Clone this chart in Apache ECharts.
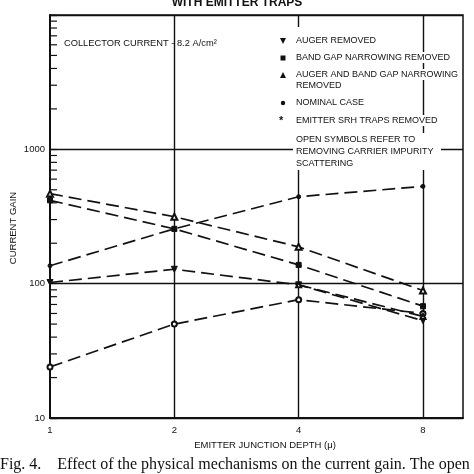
<!DOCTYPE html>
<html>
<head>
<meta charset="utf-8">
<script src="https://cdn.jsdelivr.net/npm/echarts@6/dist/echarts.min.js"></script>
<style>html,body{margin:0;padding:0;background:#fff}#c{width:474px;height:474px}</style>
</head>
<body>
<div id="c"></div>
<script>
// Emitter junction depth (microns)
const depths = [1, 2, 4, 8];
const xTickLabels = [1, 2, 4, 8];
const yTickLabels = [10, 100, 1000];
// Current gain series
const nominalCase = [136, 256, 444, 530];
const bandGapRemoved = [417, 256, 138, 68];
const augerBandGapRemoved = [440, 256, 139, 68];
const augerRemoved = [102, 128, 98, 53];
const openUpper = [468, 315, 188, 89];
const openLower = [24, 50, 76, 60];
const extraSegment = [null, null, 98, 57];
const minorTickValues = [20,30,40,50,60,70,80,90,200,300,400,500,600,700,800,900,2000,3000,4000,5000,6000,7000,8000,9000];
const verticalGrid = [2, 4, 8];

const pairs = arr => depths.map((d, i) => [d, arr[i]]).filter(p => p[1] != null);
const FONT = 'Liberation Sans';
const lineStyle = {color: '#111', width: 1.7, type: [13, 6]};

function lineSeries(name, arr, symbol, size) {
  return {
    name, type: 'line', data: pairs(arr), symbol, symbolSize: size,
    lineStyle, itemStyle: {color: '#111', borderColor: '#111', borderWidth: 1},
    showSymbol: true, z: 5, animation: false
  };
}

const chart = echarts.init(document.getElementById('c'), null, {renderer: 'canvas'});
const legendRows = [
  {sym: 'tri-down', text: 'AUGER REMOVED', y: 41},
  {sym: 'square', text: 'BAND GAP NARROWING REMOVED', y: 58},
  {sym: 'tri-up', text: 'AUGER AND BAND GAP NARROWING', y: 75},
  {sym: null, text: 'REMOVED', y: 86},
  {sym: 'circle', text: 'NOMINAL CASE', y: 103},
  {sym: 'star', text: 'EMITTER SRH TRAPS REMOVED', y: 121},
  {sym: null, text: 'OPEN SYMBOLS REFER TO', y: 140},
  {sym: null, text: 'REMOVING CARRIER IMPURITY', y: 152},
  {sym: null, text: 'SCATTERING', y: 164}
];
const graphics = [
  {type: 'rect', z: 99, shape: {x: 274, y: 27, width: 146, height: 107}, style: {fill: '#fff'}},
  {type: 'rect', z: 99, shape: {x: 293, y: 133, width: 148, height: 37}, style: {fill: '#fff'}}
];
legendRows.forEach(r => {
  graphics.push({type: 'text', left: 294, top: r.y - 6, z: 100,
    style: {text: r.text, font: '9px "' + FONT + '"', fill: '#111', backgroundColor: '#fff', padding: [1, 2, 1, 2]}});
  const cx = 283, cy = r.y;
  if (r.sym === 'tri-down') graphics.push({type: 'polygon', z: 100, shape: {points: [[cx-3, cy-3], [cx+3, cy-3], [cx, cy+3]]}, style: {fill: '#111'}});
  if (r.sym === 'tri-up') graphics.push({type: 'polygon', z: 100, shape: {points: [[cx-3, cy+3], [cx+3, cy+3], [cx, cy-3]]}, style: {fill: '#111'}});
  if (r.sym === 'square') graphics.push({type: 'rect', z: 100, shape: {x: cx-2.5, y: cy-2.5, width: 5, height: 5}, style: {fill: '#111'}});
  if (r.sym === 'circle') graphics.push({type: 'circle', z: 100, shape: {cx, cy, r: 2.2}, style: {fill: '#111'}});
  if (r.sym === 'star') graphics.push({type: 'text', z: 100, left: cx - 4, top: cy - 6, style: {text: '*', font: 'bold 11px "' + FONT + '"', fill: '#111'}});
});
graphics.push({type: 'text', left: 64, top: 39, z: 100,
  style: {text: 'COLLECTOR CURRENT - 8.2 A/cm²', font: '9.3px "' + FONT + '"', fill: '#111'}});
graphics.push({type: 'text', left: 'center', top: -3, z: 100,
  style: {text: 'WITH EMITTER TRAPS', font: 'bold 12px "' + FONT + '"', fill: '#111'}});
graphics.push({type: 'text', x: 13, y: 228, rotation: Math.PI / 2, z: 100,
  style: {text: 'CURRENT GAIN', font: '9.5px "' + FONT + '"', fill: '#111', align: 'center', verticalAlign: 'middle'}});
graphics.push({type: 'text', left: 0, top: 457, z: 100,
  style: {text: 'Fig. 4.    Effect of the physical mechanisms on the current gain. The open', font: '16px "Liberation Serif"', fill: '#111'}});

const option = {
  animation: false,
  backgroundColor: '#fff',
  grid: {left: 50, right: 11, top: 15, bottom: 56, show: true, borderColor: '#111', borderWidth: 1.5, outerBoundsMode: 'none'},
  xAxis: {
    type: 'log', logBase: 10, min: 1, max: 10,
    name: 'EMITTER JUNCTION DEPTH (\u03bc)', nameLocation: 'middle', nameGap: 22,
    nameTextStyle: {fontFamily: FONT, fontSize: 9.5, color: '#111', padding: [0, 0, 0, 17]},
    axisLine: {lineStyle: {color: '#111', width: 2}},
    axisTick: {show: false, customValues: xTickLabels},
    axisLabel: {customValues: xTickLabels, fontFamily: FONT, fontSize: 9.5, color: '#111', margin: 7},
    splitLine: {show: false}
  },
  yAxis: {
    type: 'log', logBase: 10, min: 10, max: 10000,
    axisLine: {lineStyle: {color: '#111', width: 2}},
    axisTick: {show: true, inside: true, length: 7, lineStyle: {color: '#111', width: 1.2}},
    axisLabel: {fontFamily: FONT, fontSize: 9.5, color: '#111', margin: 5,
      formatter: v => (yTickLabels.indexOf(Math.round(v)) >= 0 ? String(Math.round(v)) : '')},
    splitLine: {show: true, lineStyle: {color: '#111', width: 1.4}}
  },
  graphic: graphics,
  series: [
    {
      type: 'custom', name: 'minorTicks', silent: true, z: 3,
      data: minorTickValues.map(v => [1, v]),
      renderItem: (params, api) => {
        const p = api.coord([api.value(0), api.value(1)]);
        return {type: 'line', shape: {x1: p[0], y1: p[1], x2: p[0] + 7, y2: p[1]}, style: {stroke: '#111', lineWidth: 1.2}};
      }
    },
    {
      type: 'line', name: 'grid', data: [], silent: true,
      markLine: {symbol: 'none', silent: true, label: {show: false},
        lineStyle: {color: '#111', width: 1.4, type: 'solid'},
        data: verticalGrid.map(v => ({xAxis: v}))}
    },
    lineSeries('Nominal case', nominalCase, 'circle', 4),
    lineSeries('Band gap narrowing removed', bandGapRemoved, 'rect', 5),
    {type: 'scatter', name: 'Auger and band gap narrowing removed', data: pairs(augerBandGapRemoved),
      symbol: 'triangle', symbolSize: 6, itemStyle: {color: '#111'}, z: 6},
    lineSeries('Auger removed', augerRemoved, 'path://M0,0 L10,0 L5,10 Z', 6),
    lineSeries('Open upper', openUpper, 'emptyTriangle', 6),
    lineSeries('Open lower', openLower, 'emptyCircle', 5),
    lineSeries('Extra', extraSegment, 'emptyTriangle', 5)
  ]
};
chart.setOption(option);
</script>
</body>
</html>
